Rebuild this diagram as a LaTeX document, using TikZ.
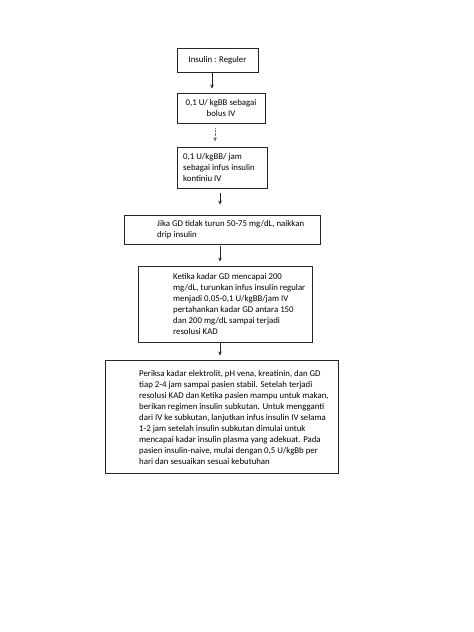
\documentclass[tikz,border=0pt]{standalone}
\usepackage{fontspec}
\setmainfont{Carlito}
\usetikzlibrary{arrows.meta}
\begin{document}
\begin{tikzpicture}[x=1pt,y=-1pt,
  box/.style={draw=black!85,line width=0.9pt,minimum width=#1,inner sep=0pt},
  txt/.style={inner sep=0pt,align=left,anchor=west,font=\fontsize{8.8}{11}\selectfont,text=black},
  ctxt/.style={inner sep=0pt,align=center,font=\fontsize{8.8}{11.5}\selectfont,text=black},
  arr/.style={draw=black!85,line width=0.6pt,-{Stealth[length=4pt,width=3.5pt]}}]
\path[use as bounding box,fill=white] (0,0) rectangle (474,632);
\node[box=81pt,minimum height=24pt] (b1) at (217.5,60) {};
\node[box=88pt,minimum height=30pt] (b2) at (221,108) {};
\node[box=90pt,minimum height=41pt] (b3) at (222,167.5) {};
\node[box=196pt,minimum height=29pt] (b4) at (222,229.5) {};
\node[box=174pt,minimum height=76pt] (b5) at (225,304) {};
\node[box=233pt,minimum height=113pt] (b6) at (221.5,416.5) {};
\node[ctxt] (t1) at (b1.center) {Insulin : Reguler};
\node[ctxt] (t2) at (b2.center) {0,1 U/ kgBB sebagai\\bolus IV};
\node[txt] (t3) at (183,167.5) {0,1 U/kgBB/ jam\\sebagai infus insulin\\kontiniu IV};
\node[txt] (t4) at (157,229.5) {Jika GD tidak turun 50-75 mg/dL, naikkan\\drip insulin};
\node[txt] (t5) at (173,304) {Ketika kadar GD mencapai 200\\mg/dL, turunkan infus insulin regular\\menjadi 0,05-0,1 U/kgBB/jam IV\\pertahankan kadar GD antara 150\\dan 200 mg/dL sampai terjadi\\resolusi KAD};
\node[txt] (t6) at (139,417.5) {Periksa kadar elektrolit, pH vena, kreatinin, dan GD\\tiap 2-4 jam sampai pasien stabil. Setelah terjadi\\resolusi KAD dan Ketika pasien mampu untuk makan,\\berikan regimen insulin subkutan. Untuk mengganti\\dari IV ke subkutan, lanjutkan infus insulin IV selama\\1-2 jam setelah insulin subkutan dimulai untuk\\mencapai kadar insulin plasma yang adekuat. Pada\\pasien insulin-naive, mulai dengan 0,5 U/kgBb per\\hari dan sesuaikan sesuai kebutuhan};
\coordinate (x1) at (212,0);
\coordinate (x2) at (215,0);
\coordinate (x3) at (220,0);
\draw[arr] ([yshift=-1pt]x1 |- b1.south) -- ([yshift=4pt]x1 |- b2.north);
\draw[arr,draw=black!55,line width=0.4pt,densely dotted] ([yshift=-5pt]x2 |- b2.south) -- ([yshift=5pt]x2 |- b3.north);
\draw[arr] ([yshift=-5pt]x3 |- b3.south) -- ([yshift=10pt]x3 |- b4.north);
\draw[arr] ([yshift=-2pt]x3 |- b4.south) -- ([yshift=4pt]x3 |- b5.north);
\draw[arr] (x3 |- b5.south) -- ([yshift=4pt]x3 |- b6.north);
\end{tikzpicture}
\end{document}
